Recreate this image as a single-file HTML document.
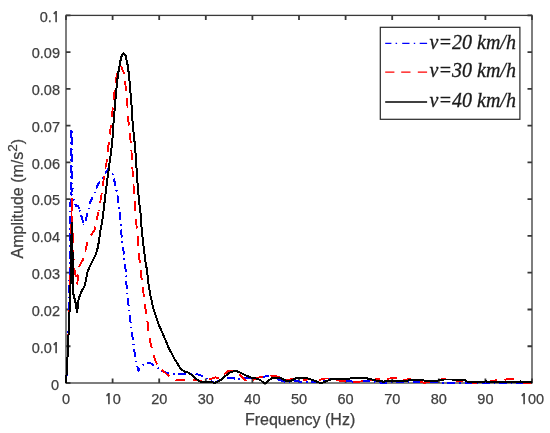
<!DOCTYPE html><html><head><meta charset="utf-8"><style>html,body{margin:0;padding:0;background:#fff;width:550px;height:433px;overflow:hidden;position:relative}</style></head><body><svg width="550" height="433" viewBox="0 0 550 433" style="position:absolute;left:0;top:0">
<rect x="0" y="0" width="550" height="433" fill="#ffffff"/>
<defs><clipPath id="ax"><rect x="65.0" y="15.4" width="467.0" height="369.1"/></clipPath></defs>
<path d="M66.00 383.0V378.5M66.00 15.4V19.9M112.60 383.0V378.5M112.60 15.4V19.9M159.20 383.0V378.5M159.20 15.4V19.9M205.80 383.0V378.5M205.80 15.4V19.9M252.40 383.0V378.5M252.40 15.4V19.9M299.00 383.0V378.5M299.00 15.4V19.9M345.60 383.0V378.5M345.60 15.4V19.9M392.20 383.0V378.5M392.20 15.4V19.9M438.80 383.0V378.5M438.80 15.4V19.9M485.40 383.0V378.5M485.40 15.4V19.9M532.00 383.0V378.5M532.00 15.4V19.9M66.0 383.00H70.5M532.0 383.00H527.5M66.0 346.24H70.5M532.0 346.24H527.5M66.0 309.48H70.5M532.0 309.48H527.5M66.0 272.72H70.5M532.0 272.72H527.5M66.0 235.96H70.5M532.0 235.96H527.5M66.0 199.20H70.5M532.0 199.20H527.5M66.0 162.44H70.5M532.0 162.44H527.5M66.0 125.68H70.5M532.0 125.68H527.5M66.0 88.92H70.5M532.0 88.92H527.5M66.0 52.16H70.5M532.0 52.16H527.5M66.0 15.40H70.5M532.0 15.40H527.5" stroke="#383838" stroke-width="1.8" fill="none"/>
<rect x="66.0" y="15.4" width="466.0" height="367.6" stroke="#3a3a3a" stroke-width="1.3" fill="none"/>
<g clip-path="url(#ax)" shape-rendering="crispEdges">
<path d="M66.0 383.0 67.0 370.0 68.0 345.0 68.8 320.0 69.2 300.0 69.5 280.0 70.0 250.0 70.3 230.0 70.6 190.0 70.9 160.0 71.2 135.0 71.5 129.0 71.9 140.0 72.1 160.0 72.3 172.0 71.6 182.0 73.0 188.0 71.0 193.0 72.5 197.0 74.0 200.5 76.3 206.5 77.5 205.8 79.5 208.5 78.0 211.5 80.3 211.0 81.5 216.5 83.4 222.7 84.4 225.0" stroke="#0000ff" stroke-width="2" stroke-dasharray="8.0 3.9 1.5 3.78" stroke-dashoffset="12.98" fill="none" stroke-linejoin="round"/><path d="M84.4 225.0 85.2 222.0 86.0 219.0 88.0 211.0 89.8 203.0 91.5 199.5 93.5 195.0 95.2 191.5 97.3 186.0 99.6 181.6 102.5 178.0 105.0 174.0 106.8 171.0 108.3 169.0 110.0 170.5 112.3 173.5 113.6 178.0 115.2 184.0 117.0 193.0 118.1 200.0 119.2 208.0 120.4 220.0 121.0 227.0 121.5 235.0 122.3 241.0 123.3 249.0 124.4 260.4 125.6 270.0 126.2 281.5 127.3 293.1 128.5 304.6 129.6 315.5 130.2 320.0 132.1 334.4 134.6 352.2 136.2 361.9 137.8 368.4 138.6 370.8 140.5 367.5 142.6 365.1 146.7 362.7 149.9 362.7 153.2 365.1 157.2 367.6 162.0 370.8 166.9 373.2 171.8 374.0 176.5 373.5 180.9 373.8 185.3 373.8 189.6 373.5 194.0 373.8 198.4 374.6 202.7 376.3 206.0 377.9 210.4 380.6 214.7 382.8 218.0 381.2 221.3 379.0 225.6 377.9 230.0 377.9 234.4 378.5 238.7 378.5 243.1 378.5 247.5 377.9 251.8 377.9 258.4 377.4 262.7 376.8 267.1 376.3 271.5 376.8 275.8 378.5 280.2 380.1 284.5 381.7 287.8 381.7 292.2 381.7 296.5 381.2 300.9 381.7 305.3 382.3 309.6 382.3 314.0 382.3 318.4 381.7 322.7 380.6 327.1 379.9 331.5 379.0 335.8 379.2 340.2 380.1 344.5 381.0 350.0 381.4 356.5 381.7 363.1 380.6 369.6 381.2 376.2 381.7 383.8 383.4 390.4 381.7 395.8 382.3 402.4 381.7 410.0 381.7 418.7 381.7 426.4 382.3 434.0 381.7 441.6 382.6 449.3 382.6 458.0 382.5 464.5 382.5 470.0 382.8 480.6 383.0 487.7 383.0 493.6 382.8 505.5 382.8 522.0 383.0 533.0 383.0" stroke="#0000ff" stroke-width="2" stroke-dasharray="8.0 3.9 1.5 3.78" stroke-dashoffset="13.0" fill="none" stroke-linejoin="round"/>
<path d="M66.0 383.0 67.0 365.0 68.0 345.0 69.0 322.0 69.6 305.0 70.2 280.0 70.8 250.0 71.3 225.0 71.8 199.0 72.3 215.0 72.8 240.0 73.3 255.0 74.1 268.0 75.2 273.8 76.2 278.0 77.0 284.5 77.8 280.0 78.2 275.0 79.3 267.0 81.0 262.5 83.0 260.0 85.0 253.0 86.5 246.0 88.0 240.0 90.0 236.5 92.5 233.0 94.5 230.0 96.2 222.0 98.5 211.5 100.8 199.0 103.0 184.5 104.8 171.2 106.6 162.0 108.2 147.7 110.0 133.0 111.6 120.0 113.0 105.0 114.5 92.0 115.8 81.0 117.5 72.0 119.0 67.5 120.3 66.0 121.5 67.0 123.0 71.0 124.1 74.0 125.3 84.0 126.6 94.6 127.5 107.0 128.3 120.0 129.8 134.0 131.3 147.7 132.5 170.0 133.1 180.0 133.7 187.3 134.8 204.6 136.0 220.0 137.7 237.3 138.9 254.6 140.0 264.0 140.6 270.0 141.8 280.4 143.5 293.1 144.6 304.6 146.4 314.0 147.5 322.0 149.1 336.0 151.5 347.3 154.0 357.0 157.2 365.1 162.9 370.8 168.5 375.6 173.4 378.9 176.6 380.3 180.9 379.5 185.3 379.9 189.6 379.9 194.0 379.9 198.4 380.6 202.7 381.7 207.1 380.6 211.5 378.5 215.8 377.4 220.2 378.5 224.5 374.1 227.8 371.4 230.0 370.8 234.4 370.8 238.7 373.5 242.0 376.8 245.3 380.1 248.0 381.7 251.8 380.6 256.2 378.5 260.5 376.8 264.9 376.3 270.4 375.5 273.6 375.7 276.9 376.6 281.3 377.9 285.6 380.6 290.0 379.5 294.4 378.5 298.7 379.5 303.1 380.1 307.5 379.5 311.8 379.5 316.2 381.2 320.5 379.5 324.9 378.5 329.3 378.5 333.6 379.5 339.1 380.6 344.5 381.2 350.0 381.2 354.4 382.1 358.7 381.7 363.1 381.2 371.8 380.1 376.2 379.2 380.5 379.5 384.9 380.6 389.3 378.5 393.6 378.1 398.0 378.5 402.4 380.6 406.7 379.5 410.0 379.0 414.4 381.4 418.7 381.7 424.2 382.8 427.5 382.3 431.8 380.6 436.2 381.2 440.5 379.5 446.0 378.5 450.4 379.0 455.8 380.6 461.3 381.2 465.6 381.7 470.0 382.3 474.7 382.8 479.5 382.2 487.7 382.0 498.4 379.8 503.1 380.1 510.2 378.6 514.9 379.8 518.5 381.0 524.4 382.8 533.0 382.8" stroke="#ff0000" stroke-width="1.9" stroke-dasharray="10 7.22" stroke-dashoffset="5.57" fill="none" stroke-linejoin="round"/>
<path d="M66.0 383.0 66.8 370.0 67.6 355.0 68.4 338.0 69.2 320.0 69.9 303.0 70.5 285.0 71.0 260.0 71.4 240.0 71.8 223.0 72.2 232.0 72.5 250.0 72.8 272.0 73.1 288.0 73.6 296.0 75.2 300.5 76.4 308.0 77.0 312.5 77.8 307.0 78.5 300.0 79.8 295.4 81.5 291.5 84.5 286.0 86.2 279.0 87.3 272.7 89.5 267.0 92.3 261.5 95.6 255.0 97.2 250.0 98.8 242.0 100.5 230.0 102.0 222.0 103.1 215.0 104.8 200.0 106.0 189.6 107.3 180.0 108.3 172.3 109.5 163.0 110.6 155.0 111.5 147.7 112.8 135.0 113.7 120.0 115.0 105.0 116.5 88.0 117.9 75.0 119.9 63.5 121.3 56.6 123.4 53.1 125.5 55.5 126.5 60.0 127.6 65.0 129.0 75.0 130.3 90.0 131.5 105.0 132.4 120.0 133.8 135.0 135.2 147.7 136.0 160.0 137.3 180.0 138.9 200.0 140.6 214.0 141.3 225.0 142.3 235.0 144.0 250.0 145.8 264.0 147.0 270.0 148.1 281.5 150.4 295.4 153.3 308.1 155.6 315.0 156.5 318.0 158.8 324.7 163.7 336.0 168.5 347.3 173.4 357.0 177.4 363.5 180.9 369.2 184.2 371.4 188.0 372.5 191.8 375.2 196.2 379.0 200.5 381.7 204.9 382.0 210.4 381.7 213.6 382.8 216.9 382.3 221.3 379.5 225.6 375.7 230.0 372.5 233.3 371.4 236.5 371.1 240.9 373.0 246.4 375.7 251.8 377.9 256.2 378.5 260.5 380.1 264.9 383.9 268.2 380.6 271.5 378.5 275.8 377.9 280.2 377.9 283.5 379.5 286.7 381.2 290.0 381.2 293.3 379.5 296.5 377.9 300.9 377.7 305.3 377.9 309.6 379.0 314.0 380.6 318.4 382.3 321.6 383.1 324.9 381.7 329.3 379.9 333.6 378.5 339.1 378.5 344.5 378.5 350.0 378.5 358.7 378.1 367.5 378.5 371.8 379.5 376.2 380.6 380.5 381.2 383.8 381.7 387.1 380.6 391.5 381.0 398.0 381.2 404.5 381.0 410.0 380.2 416.5 379.7 422.0 380.1 426.4 381.2 431.8 381.4 436.2 381.4 439.5 379.6 444.9 379.5 451.5 379.5 458.0 379.6 464.5 379.9 467.0 381.5 477.1 381.8 485.0 381.6 486.0 380.8 487.0 381.7 493.6 381.9 500.7 381.7 509.0 381.7 517.3 381.7 520.5 381.5 522.0 382.3 533.0 382.3" stroke="#000000" stroke-width="2" fill="none" stroke-linejoin="round"/>
</g>
<g font-family="Liberation Sans, Arial, sans-serif" font-size="14.5" fill="#404040" stroke="#404040" stroke-width="0.25"><text x="66.00" y="403.8" text-anchor="middle">0</text><text x="112.60" y="403.8" text-anchor="middle"><tspan font-family="NanumGothic, Liberation Sans, sans-serif" font-size="13.5" font-weight="bold">1</tspan>0</text><text x="159.20" y="403.8" text-anchor="middle">20</text><text x="205.80" y="403.8" text-anchor="middle">30</text><text x="252.40" y="403.8" text-anchor="middle">40</text><text x="299.00" y="403.8" text-anchor="middle">50</text><text x="345.60" y="403.8" text-anchor="middle">60</text><text x="392.20" y="403.8" text-anchor="middle">70</text><text x="438.80" y="403.8" text-anchor="middle">80</text><text x="485.40" y="403.8" text-anchor="middle">90</text><text x="532.00" y="403.8" text-anchor="middle"><tspan font-family="NanumGothic, Liberation Sans, sans-serif" font-size="13.5" font-weight="bold">1</tspan>00</text><text x="59.2" y="389.60" text-anchor="end">0</text><text x="60.0" y="353.14" text-anchor="end">0.0<tspan font-family="NanumGothic, Liberation Sans, sans-serif" font-size="13.5" font-weight="bold">1</tspan></text><text x="60.0" y="315.68" text-anchor="end">0.02</text><text x="60.0" y="279.32" text-anchor="end">0.03</text><text x="60.0" y="242.16" text-anchor="end">0.04</text><text x="60.0" y="204.80" text-anchor="end">0.05</text><text x="60.0" y="168.74" text-anchor="end">0.06</text><text x="60.0" y="132.28" text-anchor="end">0.07</text><text x="60.0" y="95.22" text-anchor="end">0.08</text><text x="60.0" y="57.76" text-anchor="end">0.09</text><text x="60.0" y="21.60" text-anchor="end">0.<tspan font-family="NanumGothic, Liberation Sans, sans-serif" font-size="13.5" font-weight="bold">1</tspan></text></g>
<text x="300.1" y="425.3" text-anchor="middle" font-family="Liberation Sans, Arial, sans-serif" font-size="16" fill="#404040" stroke="#404040" stroke-width="0.25">Frequency (Hz)</text>
<text transform="translate(23,198.7) rotate(-90)" text-anchor="middle" font-family="Liberation Sans, Arial, sans-serif" font-size="16" fill="#404040" stroke="#404040" stroke-width="0.25">Amplitude (m/s<tspan dy="-6.5" font-size="13.5">2</tspan><tspan dy="6.5">)</tspan></text>
<rect x="380.3" y="27.3" width="139.59999999999997" height="92.0" fill="#ffffff" stroke="#262626" stroke-width="1.2"/>
<path d="M385.2 43.3H391.4M395.6 43.3H397.1M402.2 43.3H409.5M413.8 43.3H415.2M419.7 43.3H427.1" stroke="#0000ff" stroke-width="1.3" fill="none"/>
<text x="429.6" y="48.90" font-family="Liberation Serif, serif" font-style="italic" font-size="20.5" fill="#1a1a1a" stroke="#1a1a1a" stroke-width="0.3" textLength="86.3" lengthAdjust="spacingAndGlyphs">v=20 km/h</text>
<path d="M385.2 72.2H394.4M401.2 72.2H410.5M417.8 72.2H427.1" stroke="#ff0000" stroke-width="1.3" fill="none"/>
<text x="429.6" y="77.20" font-family="Liberation Serif, serif" font-style="italic" font-size="20.5" fill="#1a1a1a" stroke="#1a1a1a" stroke-width="0.3" textLength="86.3" lengthAdjust="spacingAndGlyphs">v=30 km/h</text>
<path d="M385.2 102H427.1" stroke="#000000" stroke-width="1.3" fill="none"/>
<text x="429.6" y="106.80" font-family="Liberation Serif, serif" font-style="italic" font-size="20.5" fill="#1a1a1a" stroke="#1a1a1a" stroke-width="0.3" textLength="86.3" lengthAdjust="spacingAndGlyphs">v=40 km/h</text>
</svg></body></html>
